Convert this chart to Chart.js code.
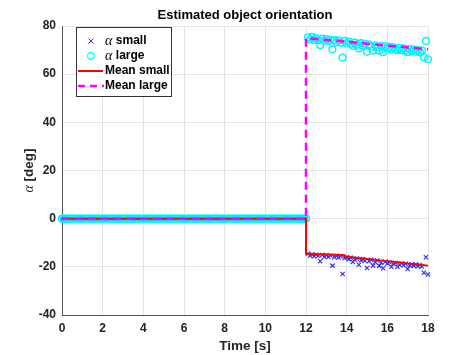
<!DOCTYPE html>
<html><head><meta charset="utf-8">
<script src="https://cdn.jsdelivr.net/npm/chart.js@4/dist/chart.umd.min.js"></script>
<style>html,body{margin:0;padding:0;background:#fff;}#wrap{width:474px;height:355px;}</style>
</head><body><div id="wrap"><canvas id="c" width="474" height="355"></canvas></div>
<script>
const titleText = "Estimated object orientation";
const xTitle = "Time [s]";
const yTitleSym = "α";
const yTitleRest = " [deg]";
const xTicks = [0,2,4,6,8,10,12,14,16,18];
const yTicks = [-40,-20,0,20,40,60,80];
const legendLabels = ["small","large","Mean small","Mean large"];

const time = [0,0.1,0.2,0.3,0.4,0.5,0.6,0.7,0.8,0.9,1,1.1,1.2,1.3,1.4,1.5,1.6,1.7,1.8,1.9,2,2.1,2.2,2.3,2.4,2.5,2.6,2.7,2.8,2.9,3,3.1,3.2,3.3,3.4,3.5,3.6,3.7,3.8,3.9,4,4.1,4.2,4.3,4.4,4.5,4.6,4.7,4.8,4.9,5,5.1,5.2,5.3,5.4,5.5,5.6,5.7,5.8,5.9,6,6.1,6.2,6.3,6.4,6.5,6.6,6.7,6.8,6.9,7,7.1,7.2,7.3,7.4,7.5,7.6,7.7,7.8,7.9,8,8.1,8.2,8.3,8.4,8.5,8.6,8.7,8.8,8.9,9,9.1,9.2,9.3,9.4,9.5,9.6,9.7,9.8,9.9,10,10.1,10.2,10.3,10.4,10.5,10.6,10.7,10.8,10.9,11,11.1,11.2,11.3,11.4,11.5,11.6,11.7,11.8,11.9,12,12.1,12.2,12.3,12.4,12.5,12.6,12.7,12.8,12.9,13,13.1,13.2,13.3,13.4,13.5,13.6,13.7,13.8,13.9,14,14.1,14.2,14.3,14.4,14.5,14.6,14.7,14.8,14.9,15,15.1,15.2,15.3,15.4,15.5,15.6,15.7,15.8,15.9,16,16.1,16.2,16.3,16.4,16.5,16.6,16.7,16.8,16.9,17,17.1,17.2,17.3,17.4,17.5,17.6,17.7,17.8,17.9,18];

const alphaSmall = [0,0,0,0,0,0,0,0,0,0,0,0,0,0,0,0,0,0,0,0,0,0,0,0,0,0,0,0,0,0,0,0,0,0,0,0,0,0,0,0,0,0,0,0,0,0,0,0,0,0,0,0,0,0,0,0,0,0,0,0,0,0,0,0,0,0,0,0,0,0,0,0,0,0,0,0,0,0,0,0,0,0,0,0,0,0,0,0,0,0,0,0,0,0,0,0,0,0,0,0,0,0,0,0,0,0,0,0,0,0,0,0,0,0,0,0,0,0,0,0,0,
-14.6,-15.4,-14.9,-15.6,-15.0,-15.5,-17.7,-15.1,-15.8,-15.2,-15.9,-15.3,-19.5,-16.0,-15.4,-16.1,-15.6,-23.0,-16.3,-16.0,-16.8,-16.2,-18.0,-17.0,-16.5,-19.1,-17.3,-16.8,-17.5,-20.5,-17.7,-17.1,-19.5,-18.0,-17.4,-19.6,-18.3,-20.6,-17.9,-18.6,-18.1,-20.0,-18.8,-18.3,-20.0,-19.1,-18.5,-19.3,-18.7,-20.9,-19.4,-18.9,-19.6,-19.0,-19.8,-19.2,-19.9,-22.5,-16.0,-23.2];

const alphaLarge = [0,0,0,0,0,0,0,0,0,0,0,0,0,0,0,0,0,0,0,0,0,0,0,0,0,0,0,0,0,0,0,0,0,0,0,0,0,0,0,0,0,0,0,0,0,0,0,0,0,0,0,0,0,0,0,0,0,0,0,0,0,0,0,0,0,0,0,0,0,0,0,0,0,0,0,0,0,0,0,0,0,0,0,0,0,0,0,0,0,0,0,0,0,0,0,0,0,0,0,0,0,0,0,0,0,0,0,0,0,0,0,0,0,0,0,0,0,0,0,0,0,
75.3,74.4,75.5,74.2,75.0,74.1,72.1,74.8,73.9,74.6,73.7,74.3,70.3,74.1,73.3,74.0,73.0,66.9,73.8,72.8,73.5,72.5,71.7,73.1,72.2,70.7,72.9,71.8,72.6,69.3,72.3,71.4,69.8,72.0,71.1,69.8,71.7,69.1,71.6,70.7,71.3,70.2,71.1,70.3,70.0,70.9,69.9,70.7,69.7,69.1,70.4,69.5,70.2,69.3,70.0,69.1,69.8,67.0,73.8,66.2];

const meanSmallTime = [0,12,12,13.9,13.9,18];
const meanSmall = [0,0,-14.6,-15.2,-15.7,-19.5];
const meanLargeTime = [0,12,12,18];
const meanLarge = [0,0,75,70.3];

const pts = (xs, ys) => xs.map((x,i)=>({x:x, y:ys[i]}));

const SANS = '"Liberation Sans", Arial, sans-serif';
const SERIF = '"Liberation Serif", "Times New Roman", serif';

const decor = {
  id: 'decor',
  afterDraw(chart) {
    const ctx = chart.ctx, a = chart.chartArea;
    ctx.save();
    ctx.fillStyle = '#000';
    ctx.font = 'bold 13px ' + SANS;
    ctx.textAlign = 'center'; ctx.textBaseline = 'middle';
    ctx.fillText(titleText, (a.left + a.right)/2, 15);
    ctx.fillStyle = '#262626';
    ctx.font = 'bold 13.5px ' + SANS;
    ctx.fillText(xTitle, (a.left + a.right)/2, 346);
    ctx.save();
    ctx.translate(29, (a.top + a.bottom)/2);
    ctx.rotate(-Math.PI/2);
    ctx.font = 'italic 14px ' + SERIF;
    const w1 = ctx.measureText(yTitleSym).width;
    ctx.font = 'bold 13.5px ' + SANS;
    const w2 = ctx.measureText(yTitleRest).width;
    const x0 = -(w1 + w2)/2;
    ctx.textAlign = 'left';
    ctx.font = 'italic 14px ' + SERIF;
    ctx.fillText(yTitleSym, x0, 0);
    ctx.font = 'bold 13.5px ' + SANS;
    ctx.fillText(yTitleRest, x0 + w1, 0);
    ctx.restore();
    const bx = 76.5, by = 27.5, bw = 95, bh = 69;
    ctx.fillStyle = '#fff';
    ctx.fillRect(bx, by, bw, bh);
    ctx.strokeStyle = '#333'; ctx.lineWidth = 1;
    ctx.strokeRect(bx, by, bw, bh);
    const rows = [41, 56, 71, 86];
    const sx0 = 78, sx1 = 103, mx = 91, tx = 105;
    ctx.strokeStyle = '#3030ff'; ctx.lineWidth = 1;
    ctx.beginPath();
    ctx.moveTo(mx-2.5, rows[0]-2.5); ctx.lineTo(mx+2.5, rows[0]+2.5);
    ctx.moveTo(mx+2.5, rows[0]-2.5); ctx.lineTo(mx-2.5, rows[0]+2.5);
    ctx.stroke();
    ctx.strokeStyle = '#00ffff'; ctx.lineWidth = 1.3;
    ctx.beginPath(); ctx.arc(mx, rows[1], 3.3, 0, Math.PI*2); ctx.stroke();
    ctx.strokeStyle = '#ff0000'; ctx.lineWidth = 2;
    ctx.beginPath(); ctx.moveTo(sx0, rows[2]); ctx.lineTo(sx1, rows[2]); ctx.stroke();
    ctx.strokeStyle = '#ff00ff'; ctx.lineWidth = 2.5;
    ctx.setLineDash([7,5]);
    ctx.beginPath(); ctx.moveTo(sx0, rows[3]); ctx.lineTo(sx1+1, rows[3]); ctx.stroke();
    ctx.setLineDash([]);
    ctx.fillStyle = '#000'; ctx.textAlign = 'left'; ctx.textBaseline = 'middle';
    for (let i = 0; i < 4; i++) {
      let x = tx;
      if (i < 2) {
        ctx.font = 'italic 14px ' + SERIF;
        ctx.fillText(yTitleSym, x, rows[i]);
        x += ctx.measureText(yTitleSym).width + 3.5;
      }
      ctx.font = 'bold 12px ' + SANS;
      ctx.fillText(legendLabels[i], x, rows[i]);
    }
    ctx.restore();
  }
};

new Chart(document.getElementById('c'), {
  type: 'scatter',
  data: {
    datasets: [
      { label: 'Mean large', data: pts(meanLargeTime, meanLarge), showLine: true, borderColor: '#ff00ff', borderWidth: 2.5, borderDash: [8,5], pointRadius: 0, fill: false, order: 0, clip: false },
      { label: 'Mean small', data: pts(meanSmallTime, meanSmall), showLine: true, borderColor: '#ff0000', borderWidth: 2, pointRadius: 0, fill: false, order: 1, clip: false },
      { label: 'alpha large', data: pts(time, alphaLarge), pointStyle: 'circle', pointRadius: 3.4, borderColor: '#00f0ff', backgroundColor: 'rgba(0,0,0,0)', borderWidth: 1.4, order: 2, clip: false },
      { label: 'alpha small', data: pts(time, alphaSmall), pointStyle: 'crossRot', pointRadius: 3, borderColor: '#2a2aff', backgroundColor: '#2a2aff', borderWidth: 1.1, order: 3, clip: false }
    ]
  },
  options: {
    responsive: false,
    animation: false,
    events: [],
    layout: { padding: { top: 26, right: 46, left: 0, bottom: 0 } },
    plugins: { legend: { display: false }, title: { display: false }, tooltip: { enabled: false } },
    scales: {
      x: {
        type: 'linear', min: 0, max: 18,
        afterBuildTicks: s => { s.ticks = xTicks.map(v => ({ value: v })); },
        afterFit: s => { s.height = 40; },
        grid: { color: '#e3e3e3', drawTicks: false, lineWidth: 1 },
        border: { color: '#555', width: 1 },
        ticks: { font: { family: SANS, size: 12, weight: 'bold' }, color: '#222', padding: 6, maxRotation: 0 }
      },
      y: {
        type: 'linear', min: -40, max: 80,
        afterBuildTicks: s => { s.ticks = yTicks.map(v => ({ value: v })); },
        afterFit: s => { s.width = 62; },
        grid: { color: '#e3e3e3', drawTicks: false, lineWidth: 1 },
        border: { color: '#555', width: 1 },
        ticks: { font: { family: SANS, size: 12, weight: 'bold' }, color: '#222', padding: 6 }
      }
    }
  },
  plugins: [decor]
});
</script></body></html>
